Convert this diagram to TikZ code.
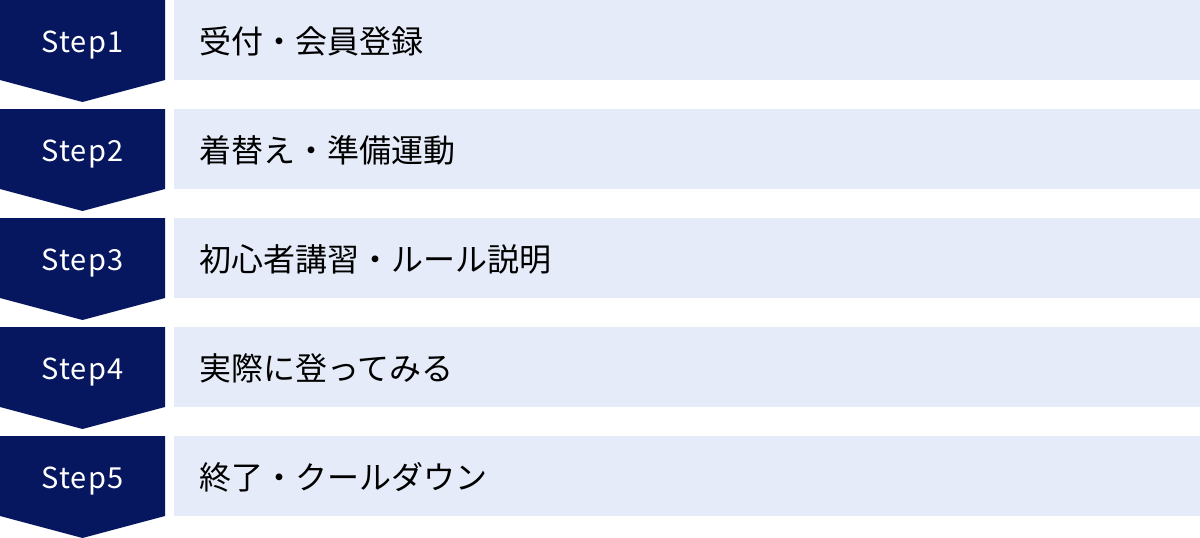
\documentclass[tikz,border=0pt]{standalone}
\usepackage{fontspec}
\setmainfont{Noto Sans CJK JP}
\newfontfamily\jpfont{Noto Sans CJK JP}
\newfontfamily\stepfont[LetterSpace=4]{Noto Sans CJK JP}
\definecolor{navy}{HTML}{06175F}
\definecolor{paleblue}{HTML}{E5EBF8}
\tikzset{
  stepshape/.style={fill=navy, draw=none},
  barshape/.style={fill=paleblue, draw=none},
  steplabel/.style={text=white, font=\stepfont\fontsize{29}{34}\selectfont, inner sep=0pt, anchor=base},
  barlabel/.style={text=black, font=\jpfont\fontsize{32}{38}\selectfont, inner sep=0pt, anchor=west},
}
\begin{document}
\begin{tikzpicture}[x=1pt,y=-1pt]
\useasboundingbox (0,0) rectangle (1200,538);
\foreach \i/\lab/\txt in {0/Step1/受付・会員登録, 1/Step2/着替え・準備運動, 2/Step3/初心者講習・ルール説明, 3/Step4/実際に登ってみる, 4/Step5/終了・クールダウン}{
  \pgfmathsetmacro{\t}{109*\i}
  \fill[barshape] (174,\t) rectangle (1200,\t+80);
  \fill[stepshape] (0,\t) -- (165,\t) -- (165,\t+80) -- (82.5,\t+102) -- (0,\t+80) -- cycle;
  \node[steplabel] (s\i) at (82.5,\t+52) {\lab};
  \node[barlabel] (b\i) at (199,\t+41) {\txt};
}
\end{tikzpicture}
\end{document}
